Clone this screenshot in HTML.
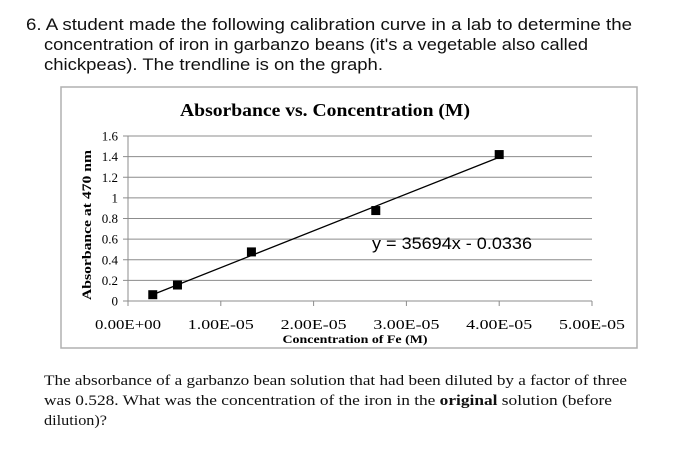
<!DOCTYPE html>
<html><head><meta charset="utf-8"><style>
html,body{margin:0;padding:0;background:#fff;}
svg{display:block;}
</style></head><body>
<svg id="c" width="684" height="449" xmlns="http://www.w3.org/2000/svg">
<g font-family="Liberation Sans, DejaVu Sans, sans-serif" font-size="17" fill="#111">
<text x="26" y="30" textLength="606" lengthAdjust="spacingAndGlyphs">6.  A student made the following calibration curve in a lab to determine the</text>
<text x="44" y="50" textLength="544" lengthAdjust="spacingAndGlyphs">concentration of iron in garbanzo beans (it's a vegetable also called</text>
<text x="44" y="70" textLength="339" lengthAdjust="spacingAndGlyphs">chickpeas).  The trendline is on the graph.</text>
</g>
<rect x="61" y="87" width="576" height="261" fill="#fff" stroke="#b0b0b0" stroke-width="1.5"/>
<text x="325" y="116" text-anchor="middle" font-family="Liberation Serif, serif" font-weight="bold" font-size="18" textLength="290" lengthAdjust="spacingAndGlyphs">Absorbance vs. Concentration (M)</text>
<g id="plot"></g>
<text transform="translate(91,225) rotate(-90)" text-anchor="middle" font-family="Liberation Serif, serif" font-weight="bold" font-size="13" textLength="150" lengthAdjust="spacingAndGlyphs">Absorbance at 470 nm</text>
<text x="355" y="343" text-anchor="middle" font-family="Liberation Serif, serif" font-weight="bold" font-size="12" textLength="145" lengthAdjust="spacingAndGlyphs">Concentration of Fe (M)</text>
<text x="372" y="249" font-family="Liberation Sans, sans-serif" font-size="17" textLength="160" lengthAdjust="spacingAndGlyphs">y = 35694x - 0.0336</text>
<g font-family="Liberation Serif, serif" font-size="15" fill="#111">
<text x="44" y="385" textLength="583" lengthAdjust="spacingAndGlyphs">The absorbance of a garbanzo bean solution that had been diluted by a factor of three</text>
<text x="44" y="405" textLength="568" lengthAdjust="spacingAndGlyphs">was 0.528.   What was the concentration of the iron in the <tspan font-weight="bold">original</tspan> solution (before</text>
<text x="44" y="425" textLength="63" lengthAdjust="spacingAndGlyphs">dilution)?</text>
</g>
</svg>
<script>
const xVals=[2.67e-6,5.33e-6,1.33e-5,2.67e-5,4.0e-5];
const yVals=[0.061,0.155,0.476,0.877,1.42];
const yTicks=[0,0.2,0.4,0.6,0.8,1,1.2,1.4,1.6];
const yTickLabels=["0","0.2","0.4","0.6","0.8","1","1.2","1.4","1.6"];
const xTicks=[0,1e-5,2e-5,3e-5,4e-5,5e-5];
const xTickLabels=["0.00E+00","1.00E-05","2.00E-05","3.00E-05","4.00E-05","5.00E-05"];
const slope=35694, intercept=-0.0336;
const X0=128,X1=592,Y0=301,Y1=136;
const sx=v=>X0+(v-0)/(5e-5)*(X1-X0);
const sy=v=>Y0-(v/1.6)*(Y0-Y1);
const NS="http://www.w3.org/2000/svg";
const g=document.getElementById('plot');
function mk(t,a){const e=document.createElementNS(NS,t);for(const k in a)e.setAttribute(k,a[k]);g.appendChild(e);return e;}
yTicks.forEach((v,i)=>{
 const y=sy(v);
 if(v>0){const l=mk('line',{x1:X0,x2:X1,y1:y,y2:y,stroke:'#8c8c8c','stroke-width':1});
 
 }
 const t=mk('line',{x1:X0-5,x2:X0,y1:y,y2:y,stroke:'#8c8c8c','stroke-width':1});
 
 
 const tx=mk('text',{x:X0-10,y:y+4.5,'text-anchor':'end','font-family':'Liberation Serif, serif','font-size':13});
 tx.textContent=yTickLabels[i];
 
 
});
const ya=mk('line',{x1:X0,x2:X0,y1:Y1,y2:Y0,stroke:'#8c8c8c','stroke-width':1});


const xa=mk('line',{x1:X0,x2:X1,y1:Y0,y2:Y0,stroke:'#8c8c8c','stroke-width':1});


xTicks.forEach((v,i)=>{
 const x=sx(v);
 const t=mk('line',{x1:x,x2:x,y1:Y0,y2:Y0+5,stroke:'#8c8c8c','stroke-width':1});
 
 
 const tx=mk('text',{x:x,y:Y0+28,'text-anchor':'middle','font-family':'Liberation Serif, serif','font-size':14,textLength:66,lengthAdjust:'spacingAndGlyphs'});
 tx.textContent=xTickLabels[i];
 
 
});
const xa0=xVals[0],xb=xVals[xVals.length-1];
const tl=mk('line',{x1:sx(xa0),y1:sy(slope*xa0+intercept),x2:sx(xb),y2:sy(slope*xb+intercept),stroke:'#000','stroke-width':1.3});


xVals.forEach((v,i)=>{
 const r=mk('rect',{x:sx(v)-4.5,y:sy(yVals[i])-4.5,width:9,height:9,fill:'#000'});
 
 
});
</script>
</body></html>
